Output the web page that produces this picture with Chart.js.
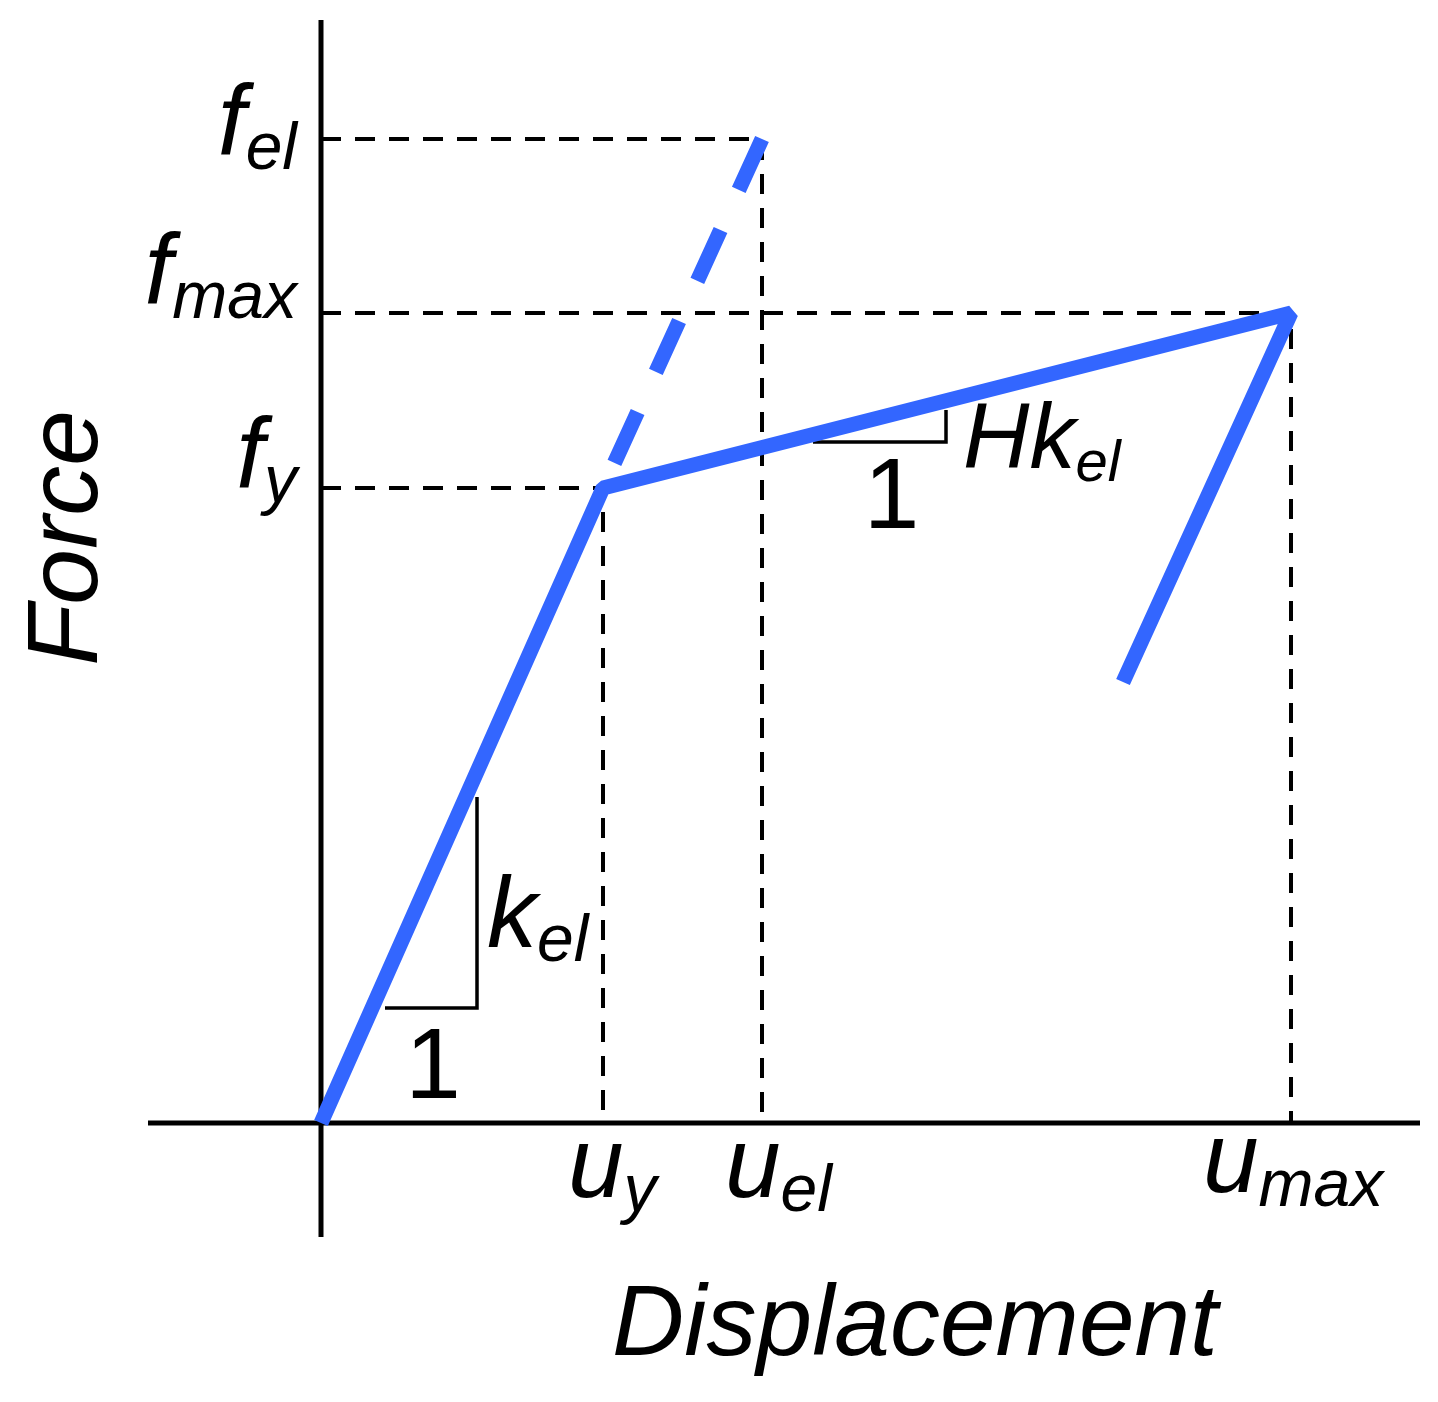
<!DOCTYPE html>
<html>
<head>
<meta charset="utf-8">
<title>Force - Displacement</title>
<script src="https://cdn.jsdelivr.net/npm/chart.js@4.4.1/dist/chart.umd.min.js"></script>
<style>
    html, body { margin: 0; padding: 0; background: #ffffff; }
    #wrap { width: 1438px; height: 1402px; }
</style>
</head>
<body>
<div id="wrap"><canvas id="forceChart" width="1438" height="1402"></canvas></div>
<script>
// characteristic values (arbitrary units)
const displacements = [0, 2.82, 4.41, 9.70];      // origin, u_y, u_el, u_max
const forces = [0, 6.35, 9.84, 8.10];              // origin, f_y, f_el, f_max
const unloadEnd = [8.02, 4.41];                    // end of unloading branch (u, f)
const axisRangeX = [-1.73, 10.99];
const axisRangeY = [-1.14, 11.03];

// little slope triangles: [u, f] corners
const kelTriangle = [[0.64, 1.15], [1.56, 1.15], [1.56, 3.26]];
const hkelTriangle = [[4.92, 6.81], [6.25, 6.81], [6.25, 7.13]];

const [u0, uy, uel, umax] = displacements;
const [f0, fy, fel, fmax] = forces;

const BLUE = '#3366ff';
const FONT = '"Liberation Sans", Arial, sans-serif';

function pts(list) {
    return list.map(p => ({x: p[0], y: p[1]}));
}

function lineSet(data, opts) {
    return Object.assign({
        data: data,
        showLine: true,
        pointRadius: 0,
        pointHoverRadius: 0,
        borderColor: '#000000',
        borderWidth: 5,
        borderCapStyle: 'butt',
        borderJoinStyle: 'miter',
        fill: false,
        tension: 0,
        clip: false
    }, opts || {});
}

const guideDash = {borderWidth: 4, borderDash: [20, 14]};

const datasets = [
    // backbone curve
    lineSet(pts([[u0, f0], [uy, fy], [umax, fmax], unloadEnd]), {borderColor: BLUE, borderWidth: 15, borderJoinStyle: 'bevel'}),
    // elastic extension up to f_el
    lineSet(pts([[uel, fel], [uy, fy]]), {borderColor: BLUE, borderWidth: 15, borderDash: [56, 44]}),
    // slope triangles
    lineSet(pts(kelTriangle), {borderWidth: 3.5}),
    lineSet(pts(hkelTriangle), {borderWidth: 3.5}),
    // dashed guides
    lineSet(pts([[0, fel], [uel, fel], [uel, 0]]), guideDash),
    lineSet(pts([[0, fmax], [umax, fmax], [umax, 0]]), guideDash),
    lineSet(pts([[0, fy], [uy, fy], [uy, 0]]), guideDash),
    // axes
    lineSet(pts([[axisRangeX[0], 0], [axisRangeX[1], 0]]), {borderWidth: 5}),
    lineSet(pts([[0, axisRangeY[0]], [0, axisRangeY[1]]]), {borderWidth: 5})
];

/*
Labels with a subscript. x/y are data values, dx/dy pixel nudges.
align 'right' means the whole label ends at the anchor.
 */
const labels = [
    {main: 'f', sub: 'el', x: 0, y: fel, dx: -24, dy: 16, align: 'right'},
    {main: 'f', sub: 'max', x: 0, y: fmax, dx: -24, dy: -9, align: 'right'},
    {main: 'f', sub: 'y', x: 0, y: fy, dx: -24, dy: 0, align: 'right'},
    {main: 'u', sub: 'y', x: uy, y: 0, dx: -35, dy: 74, align: 'left'},
    {main: 'u', sub: 'el', x: uel, y: 0, dx: -37, dy: 74, align: 'left'},
    {main: 'u', sub: 'max', x: umax, y: 0, dx: -88, dy: 69, align: 'left'},
    {main: 'k', sub: 'el', x: kelTriangle[2][0], y: kelTriangle[0][1], dx: 10, dy: -61, align: 'left'},
    {main: 'Hk', sub: 'el', x: hkelTriangle[1][0], y: hkelTriangle[1][1], dx: 17, dy: 26, align: 'left', size: 92, subSize: 58}
];

const plainTexts = [
    {text: '1', x: (kelTriangle[0][0] + kelTriangle[1][0]) / 2, y: kelTriangle[0][1], dx: 2, dy: 90},
    {text: '1', x: (hkelTriangle[0][0] + hkelTriangle[1][0]) / 2, y: hkelTriangle[0][1], dx: 12, dy: 86}
];

const annotate = {
    id: 'annotate',
    afterDatasetsDraw(chart) {
        const ctx = chart.ctx;
        const sx = chart.scales.x;
        const sy = chart.scales.y;
        ctx.save();
        ctx.fillStyle = '#000000';
        ctx.textBaseline = 'alphabetic';

        labels.forEach(l => {
            const size = l.size || 100;
            const subSize = l.subSize || 66;
            const mainFont = 'italic ' + size + 'px ' + FONT;
            const subFont = 'italic ' + subSize + 'px ' + FONT;
            ctx.font = mainFont;
            const wMain = ctx.measureText(l.main).width;
            ctx.font = subFont;
            const wSub = ctx.measureText(l.sub).width;
            let px = sx.getPixelForValue(l.x) + l.dx;
            const py = sy.getPixelForValue(l.y) + l.dy;
            if (l.align === 'right') px -= (wMain + wSub);
            ctx.textAlign = 'left';
            ctx.font = mainFont;
            ctx.fillText(l.main, px, py);
            ctx.font = subFont;
            ctx.fillText(l.sub, px + wMain, py + size * 0.14);
        });

        ctx.font = '100px ' + FONT;
        ctx.textAlign = 'center';
        plainTexts.forEach(t => {
            ctx.fillText(t.text, sx.getPixelForValue(t.x) + t.dx, sy.getPixelForValue(t.y) + t.dy);
        });

        // axis titles
        ctx.font = 'italic 100px ' + FONT;
        ctx.textAlign = 'center';
        ctx.fillText('Displacement', 915, 1355);

        ctx.translate(97, 538);
        ctx.rotate(-Math.PI / 2);
        ctx.fillText('Force', 0, 0);
        ctx.restore();
    }
};

const ctx = document.getElementById('forceChart').getContext('2d');
new Chart(ctx, {
    type: 'scatter',
    data: {datasets: datasets},
    options: {
        responsive: false,
        animation: false,
        devicePixelRatio: 1,
        layout: {padding: {left: 148, right: 18, top: 20, bottom: 165}},
        plugins: {
            legend: {display: false},
            tooltip: {enabled: false}
        },
        scales: {
            x: {type: 'linear', min: axisRangeX[0], max: axisRangeX[1], display: false},
            y: {type: 'linear', min: axisRangeY[0], max: axisRangeY[1], display: false}
        }
    },
    plugins: [annotate]
});
</script>
</body>
</html>
